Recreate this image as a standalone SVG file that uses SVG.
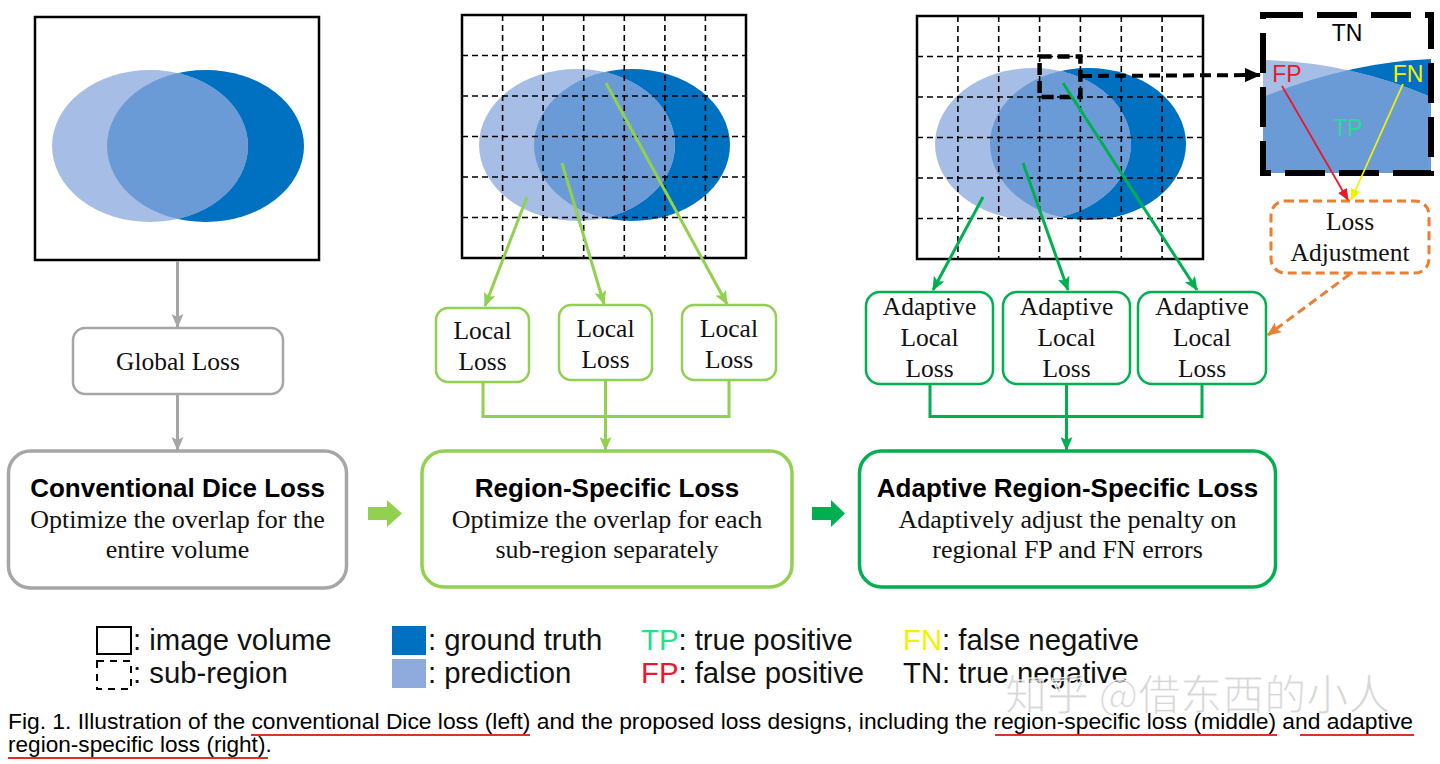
<svg xmlns="http://www.w3.org/2000/svg" width="1440" height="764" viewBox="0 0 1440 764">
<style>
.serif{font-family:"Liberation Serif","Times New Roman",serif;font-size:25.5px;fill:#111;text-anchor:middle}
.big{font-size:26px}
.bold{font-family:"Liberation Sans",Arial,sans-serif;font-size:26px;font-weight:bold;fill:#000;text-anchor:middle}
.sans{font-family:"Liberation Sans",Arial,sans-serif;font-size:29.3px;fill:#111}
.cap{font-family:"Liberation Sans",Arial,sans-serif;font-size:22.6px;fill:#000}
.ins{font-family:"Liberation Sans",Arial,sans-serif;font-size:23px;text-anchor:middle}
.grid line{stroke:#000;stroke-width:1.6;stroke-dasharray:6 4}
.frame{fill:none;stroke:#000;stroke-width:2.5}
.pred{fill:#A6BEE6}
.gt{fill:#0070C0}
.ovl{fill:#6B9BD6}
.lg{fill:none;stroke:#92D050;stroke-width:3}
.dg{fill:none;stroke:#00B050;stroke-width:3}
.gy{fill:none;stroke:#A6A6A6;stroke-width:3}
.ul{stroke:#E0302A;stroke-width:2;fill:none}
</style>
<defs>
<marker id="mLg" markerWidth="14" markerHeight="12" refX="13" refY="6" orient="auto" markerUnits="userSpaceOnUse"><path d="M0,0 L14,6 L0,12 L3,6 z" fill="#92D050"/></marker>
<marker id="mDg" markerWidth="14" markerHeight="12" refX="13" refY="6" orient="auto" markerUnits="userSpaceOnUse"><path d="M0,0 L14,6 L0,12 L3,6 z" fill="#00B050"/></marker>
<marker id="mGy" markerWidth="14" markerHeight="12" refX="13" refY="6" orient="auto" markerUnits="userSpaceOnUse"><path d="M0,0 L14,6 L0,12 L3,6 z" fill="#A6A6A6"/></marker>
<marker id="mBk" markerWidth="16" markerHeight="14" refX="15" refY="7" orient="auto" markerUnits="userSpaceOnUse"><path d="M0,0 L16,7 L0,14 z" fill="#000"/></marker>
<marker id="mRd" markerWidth="12" markerHeight="10" refX="11" refY="5" orient="auto" markerUnits="userSpaceOnUse"><path d="M0,0 L12,5 L0,10 z" fill="#E8192C"/></marker>
<marker id="mYl" markerWidth="12" markerHeight="10" refX="11" refY="5" orient="auto" markerUnits="userSpaceOnUse"><path d="M0,0 L12,5 L0,10 z" fill="#F2F200"/></marker>
<marker id="mOr" markerWidth="14" markerHeight="12" refX="13" refY="6" orient="auto" markerUnits="userSpaceOnUse"><path d="M0,0 L14,6 L0,12 L3,6 z" fill="#ED7D31"/></marker>
<clipPath id="cL"><ellipse cx="205.5" cy="146" rx="98.5" ry="76"/></clipPath>
<clipPath id="cM"><ellipse cx="632" cy="145" rx="98" ry="76"/></clipPath>
<clipPath id="cR"><ellipse cx="1088" cy="144" rx="98" ry="76"/></clipPath>
<clipPath id="cI"><rect x="1263" y="15" width="168" height="158"/></clipPath>
<clipPath id="cIG"><path d="M1263,97 Q1350,62 1431,59 L1431,173 L1263,173 Z"/></clipPath>
</defs>
<rect width="1440" height="764" fill="#fff"/>

<!-- Left panel: image volume -->
<g id="panel-left">
<ellipse class="gt" cx="205.5" cy="146" rx="98.5" ry="76"/>
<ellipse class="pred" cx="150" cy="146" rx="98" ry="76"/>
<ellipse class="ovl" cx="150" cy="146" rx="98" ry="76" clip-path="url(#cL)"/>
<rect class="frame" x="35" y="17" width="284" height="243"/>
</g>

<!-- Middle panel -->
<g id="panel-middle">
<ellipse class="gt" cx="632" cy="145" rx="98" ry="76"/>
<ellipse class="pred" cx="577" cy="145" rx="98" ry="76"/>
<ellipse class="ovl" cx="577" cy="145" rx="98" ry="76" clip-path="url(#cM)"/>
<g class="grid">
<line x1="502.6" y1="15" x2="502.6" y2="258"/><line x1="543.1" y1="15" x2="543.1" y2="258"/><line x1="583.7" y1="15" x2="583.7" y2="258"/><line x1="624.3" y1="15" x2="624.3" y2="258"/><line x1="664.9" y1="15" x2="664.9" y2="258"/><line x1="705.4" y1="15" x2="705.4" y2="258"/>
<line x1="462" y1="55.5" x2="746" y2="55.5"/><line x1="462" y1="96" x2="746" y2="96"/><line x1="462" y1="136.5" x2="746" y2="136.5"/><line x1="462" y1="177" x2="746" y2="177"/><line x1="462" y1="217.5" x2="746" y2="217.5"/>
</g>
<rect class="frame" x="462" y="15" width="284" height="243"/>
</g>

<!-- Right panel -->
<g id="panel-right">
<ellipse class="gt" cx="1088" cy="144" rx="98" ry="76"/>
<ellipse class="pred" cx="1033" cy="144" rx="98" ry="76"/>
<ellipse class="ovl" cx="1033" cy="144" rx="98" ry="76" clip-path="url(#cR)"/>
<g class="grid">
<line x1="957.9" y1="16" x2="957.9" y2="259"/><line x1="998.7" y1="16" x2="998.7" y2="259"/><line x1="1039.6" y1="16" x2="1039.6" y2="259"/><line x1="1080.4" y1="16" x2="1080.4" y2="259"/><line x1="1121.3" y1="16" x2="1121.3" y2="259"/><line x1="1162.1" y1="16" x2="1162.1" y2="259"/>
<line x1="917" y1="56.5" x2="1203" y2="56.5"/><line x1="917" y1="97" x2="1203" y2="97"/><line x1="917" y1="137.5" x2="1203" y2="137.5"/><line x1="917" y1="178" x2="1203" y2="178"/><line x1="917" y1="218.5" x2="1203" y2="218.5"/>
</g>
<rect class="frame" x="917" y="16" width="286" height="243"/>
<rect id="subregion" x="1039.6" y="56.5" width="40.8" height="40.5" fill="none" stroke="#000" stroke-width="4.5" stroke-dasharray="12 6"/>
</g>

<!-- Inset sub-region zoom -->
<g id="inset">
<g clip-path="url(#cI)">
<rect x="1263" y="15" width="168" height="158" fill="#fff"/>
<path class="gt" d="M1263,97 Q1350,62 1431,59 L1431,173 L1263,173 Z"/>
<path class="pred" d="M1263,60 Q1350,62 1431,97 L1431,173 L1263,173 Z"/>
<path class="ovl" d="M1263,60 Q1350,62 1431,97 L1431,173 L1263,173 Z" clip-path="url(#cIG)"/>
</g>
<rect x="1263" y="15" width="168" height="158" fill="none" stroke="#000" stroke-width="6" stroke-dasharray="40 14"/>
<text class="ins" x="1347" y="41" fill="#000">TN</text>
<text class="ins" x="1287" y="82" fill="#E8192C">FP</text>
<text class="ins" x="1408" y="82" fill="#F2F200">FN</text>
<text class="ins" x="1348" y="136" fill="#22E08C">TP</text>
</g>

<!-- Nodes -->
<g id="global-loss"><rect x="73" y="328" width="210" height="66" rx="12" fill="#fff" stroke="#A6A6A6" stroke-width="2.5"/><text class="serif" x="178" y="370">Global Loss</text></g>

<g id="local-loss-1"><rect x="436" y="308" width="93" height="74" rx="12" fill="#fff" stroke="#92D050" stroke-width="2.5"/><text class="serif" x="482.5" y="338.5">Local</text><text class="serif" x="482.5" y="369.5">Loss</text></g>
<g id="local-loss-2"><rect x="559" y="305" width="93" height="75" rx="12" fill="#fff" stroke="#92D050" stroke-width="2.5"/><text class="serif" x="605.5" y="336.5">Local</text><text class="serif" x="605.5" y="367.5">Loss</text></g>
<g id="local-loss-3"><rect x="682" y="305" width="94" height="75" rx="12" fill="#fff" stroke="#92D050" stroke-width="2.5"/><text class="serif" x="729" y="336.5">Local</text><text class="serif" x="729" y="367.5">Loss</text></g>

<g id="adaptive-local-1"><rect x="866" y="292" width="127" height="92" rx="14" fill="#fff" stroke="#00B050" stroke-width="2.5"/><text class="serif" x="929.5" y="315">Adaptive</text><text class="serif" x="929.5" y="346">Local</text><text class="serif" x="929.5" y="377">Loss</text></g>
<g id="adaptive-local-2"><rect x="1003" y="292" width="127" height="92" rx="14" fill="#fff" stroke="#00B050" stroke-width="2.5"/><text class="serif" x="1066.5" y="315">Adaptive</text><text class="serif" x="1066.5" y="346">Local</text><text class="serif" x="1066.5" y="377">Loss</text></g>
<g id="adaptive-local-3"><rect x="1138" y="292" width="128" height="92" rx="14" fill="#fff" stroke="#00B050" stroke-width="2.5"/><text class="serif" x="1202" y="315">Adaptive</text><text class="serif" x="1202" y="346">Local</text><text class="serif" x="1202" y="377">Loss</text></g>

<g id="loss-adjustment"><rect x="1271" y="201" width="158" height="72" rx="14" fill="#fff" stroke="#ED7D31" stroke-width="3" stroke-dasharray="9 5"/><text class="serif" x="1350" y="230">Loss</text><text class="serif" x="1350" y="261">Adjustment</text></g>

<g id="conventional-dice"><rect x="8.5" y="451" width="338" height="137" rx="22" fill="#fff" stroke="#A6A6A6" stroke-width="3.5"/><text class="bold" x="177.5" y="497">Conventional Dice Loss</text><text class="serif big" x="177.5" y="528">Optimize the overlap for the</text><text class="serif big" x="177.5" y="558">entire volume</text></g>

<g id="region-specific"><rect x="422" y="451" width="370" height="136" rx="22" fill="#fff" stroke="#92D050" stroke-width="3.5"/><text class="bold" x="607" y="497">Region-Specific Loss</text><text class="serif big" x="607" y="528">Optimize the overlap for each</text><text class="serif big" x="607" y="558">sub-region separately</text></g>

<g id="adaptive-region-specific"><rect x="859.5" y="451" width="416" height="136" rx="22" fill="#fff" stroke="#00B050" stroke-width="3.5"/><text class="bold" x="1067.5" y="497">Adaptive Region-Specific Loss</text><text class="serif big" x="1067.5" y="528">Adaptively adjust the penalty on</text><text class="serif big" x="1067.5" y="558">regional FP and FN errors</text></g>

<!-- Connectors -->
<g id="connectors">
<line class="gy" x1="177.5" y1="261" x2="177.5" y2="327" marker-end="url(#mGy)"/>
<line class="gy" x1="177.5" y1="395" x2="177.5" y2="450" marker-end="url(#mGy)"/>
<line class="lg" x1="527" y1="197" x2="485" y2="306" marker-end="url(#mLg)"/>
<line class="lg" x1="562" y1="163" x2="604" y2="304" marker-end="url(#mLg)"/>
<line class="lg" x1="606" y1="83" x2="727" y2="304" marker-end="url(#mLg)"/>
<polyline class="lg" points="483,382 483,416.5 729,416.5 729,380"/>
<line class="lg" x1="605.5" y1="380" x2="605.5" y2="450" marker-end="url(#mLg)"/>
<line class="dg" x1="983" y1="197" x2="933" y2="290" marker-end="url(#mDg)"/>
<line class="dg" x1="1023" y1="163" x2="1068" y2="290" marker-end="url(#mDg)"/>
<line class="dg" x1="1063" y1="83" x2="1197" y2="290" marker-end="url(#mDg)"/>
<polyline class="dg" points="930,384 930,416.5 1202,416.5 1202,384"/>
<line class="dg" x1="1066.5" y1="384" x2="1066.5" y2="450" marker-end="url(#mDg)"/>
<line x1="1081" y1="76" x2="1260" y2="75" stroke="#000" stroke-width="4" stroke-dasharray="11 6" marker-end="url(#mBk)"/>
<line x1="1282" y1="86" x2="1348" y2="200" stroke="#E8192C" stroke-width="1.8" marker-end="url(#mRd)"/>
<line x1="1403" y1="84" x2="1351" y2="200" stroke="#F2F200" stroke-width="1.8" marker-end="url(#mYl)"/>
<line x1="1350" y1="274" x2="1268" y2="335" stroke="#ED7D31" stroke-width="3" stroke-dasharray="9 5" marker-end="url(#mOr)"/>
<polygon points="368,507 387,507 387,500 402,513.5 387,527 387,520 368,520" fill="#92D050"/>
<polygon points="812,507 831,507 831,500 845,513.5 831,527 831,520 812,520" fill="#00B050"/>
</g>

<!-- Legend -->
<g id="legend">
<rect x="97" y="627" width="34" height="27" fill="none" stroke="#000" stroke-width="2"/>
<text class="sans" x="133" y="650">: image volume</text>
<rect x="97" y="661" width="34" height="28" fill="none" stroke="#000" stroke-width="2" stroke-dasharray="7 6"/>
<text class="sans" x="133" y="683">: sub-region</text>
<rect x="392" y="626" width="34" height="29" fill="#0070C0"/>
<text class="sans" x="428" y="650">: ground truth</text>
<rect x="392" y="659" width="34" height="29" fill="#8FAADC"/>
<text class="sans" x="428" y="683">: prediction</text>
<text class="sans" x="641" y="650"><tspan fill="#22E08C">TP</tspan>: true positive</text>
<text class="sans" x="641" y="683"><tspan fill="#E8192C">FP</tspan>: false positive</text>
<text class="sans" x="903" y="650"><tspan fill="#F2F200">FN</tspan>: false negative</text>
<text class="sans" x="903" y="683">TN: true negative</text>
</g>

<!-- Watermark -->
<text x="1005" y="710" font-family="Noto Sans CJK SC,Liberation Sans,sans-serif" font-size="42" fill="#BDBDBD" fill-opacity="0.6" stroke="#fff" stroke-width="1">知乎 @借东西的小人</text>

<!-- Caption -->
<g id="caption">
<text class="cap" x="8" y="729" textLength="1405" lengthAdjust="spacingAndGlyphs">Fig. 1. Illustration of the conventional Dice loss (left) and the proposed loss designs, including the region-specific loss (middle) and adaptive</text>
<text class="cap" x="8" y="752">region-specific loss (right).</text>
<path class="ul" d="M251,735 L530,735 M995,735 L1277,735 M1300,735 L1414,735 M8,758 L268,758"/>
</g>
</svg>
